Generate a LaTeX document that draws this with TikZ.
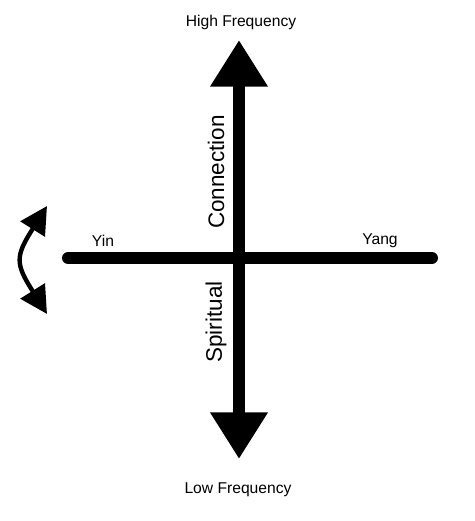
\documentclass[tikz,border=0pt]{standalone}
\usepackage{fontspec}
\setmainfont{Liberation Sans}
\usetikzlibrary{arrows.meta}
\begin{document}
\begin{tikzpicture}[x=0.02cm,y=-0.02cm,
  axis/.style={line width=6.8pt},
  small/.style={font=\fontsize{8.9}{10}\selectfont},
  big/.style={font=\fontsize{12.8}{14}\selectfont,rotate=90}]
  \useasboundingbox (0,0) rectangle (474,521);
  \coordinate (N) at (239,40);
  \coordinate (S) at (239,459);
  \coordinate (W) at (68,258);
  \coordinate (E) at (432,258);
  \coordinate (swingtop) at (47,206);
  \coordinate (bendtop) at (32,230);
  \coordinate (bendbot) at (32,290);
  \coordinate (swingbot) at (47,314);
  % vertical axis
  \draw[axis,{Triangle[length=26.5pt,width=31pt]}-{Triangle[length=26.5pt,width=31pt]}] (N) -- (S);
  % horizontal axis
  \draw[axis,line cap=round] (W) -- (E);
  % swing arrow on the left
  \draw[line width=2.5pt,{Triangle[length=15.5pt,width=16pt]}-{Triangle[length=15.5pt,width=16pt]}]
    (swingtop) -- (bendtop) .. controls (15.5,256) and (15.5,264) .. (bendbot) -- (swingbot);
  % labels
  \node[small] (hi) at (241,22) {High Frequency};
  \node[small] (lo) at (238,490) {Low Frequency};
  \node[small] (yin) at (103,241) {Yin};
  \node[small] (yang) at (380,241) {Yang};
  \node[big] (conn) at (216,172) {Connection};
  \node[big] (spir) at (216,322) {Spiritual};
\end{tikzpicture}
\end{document}
